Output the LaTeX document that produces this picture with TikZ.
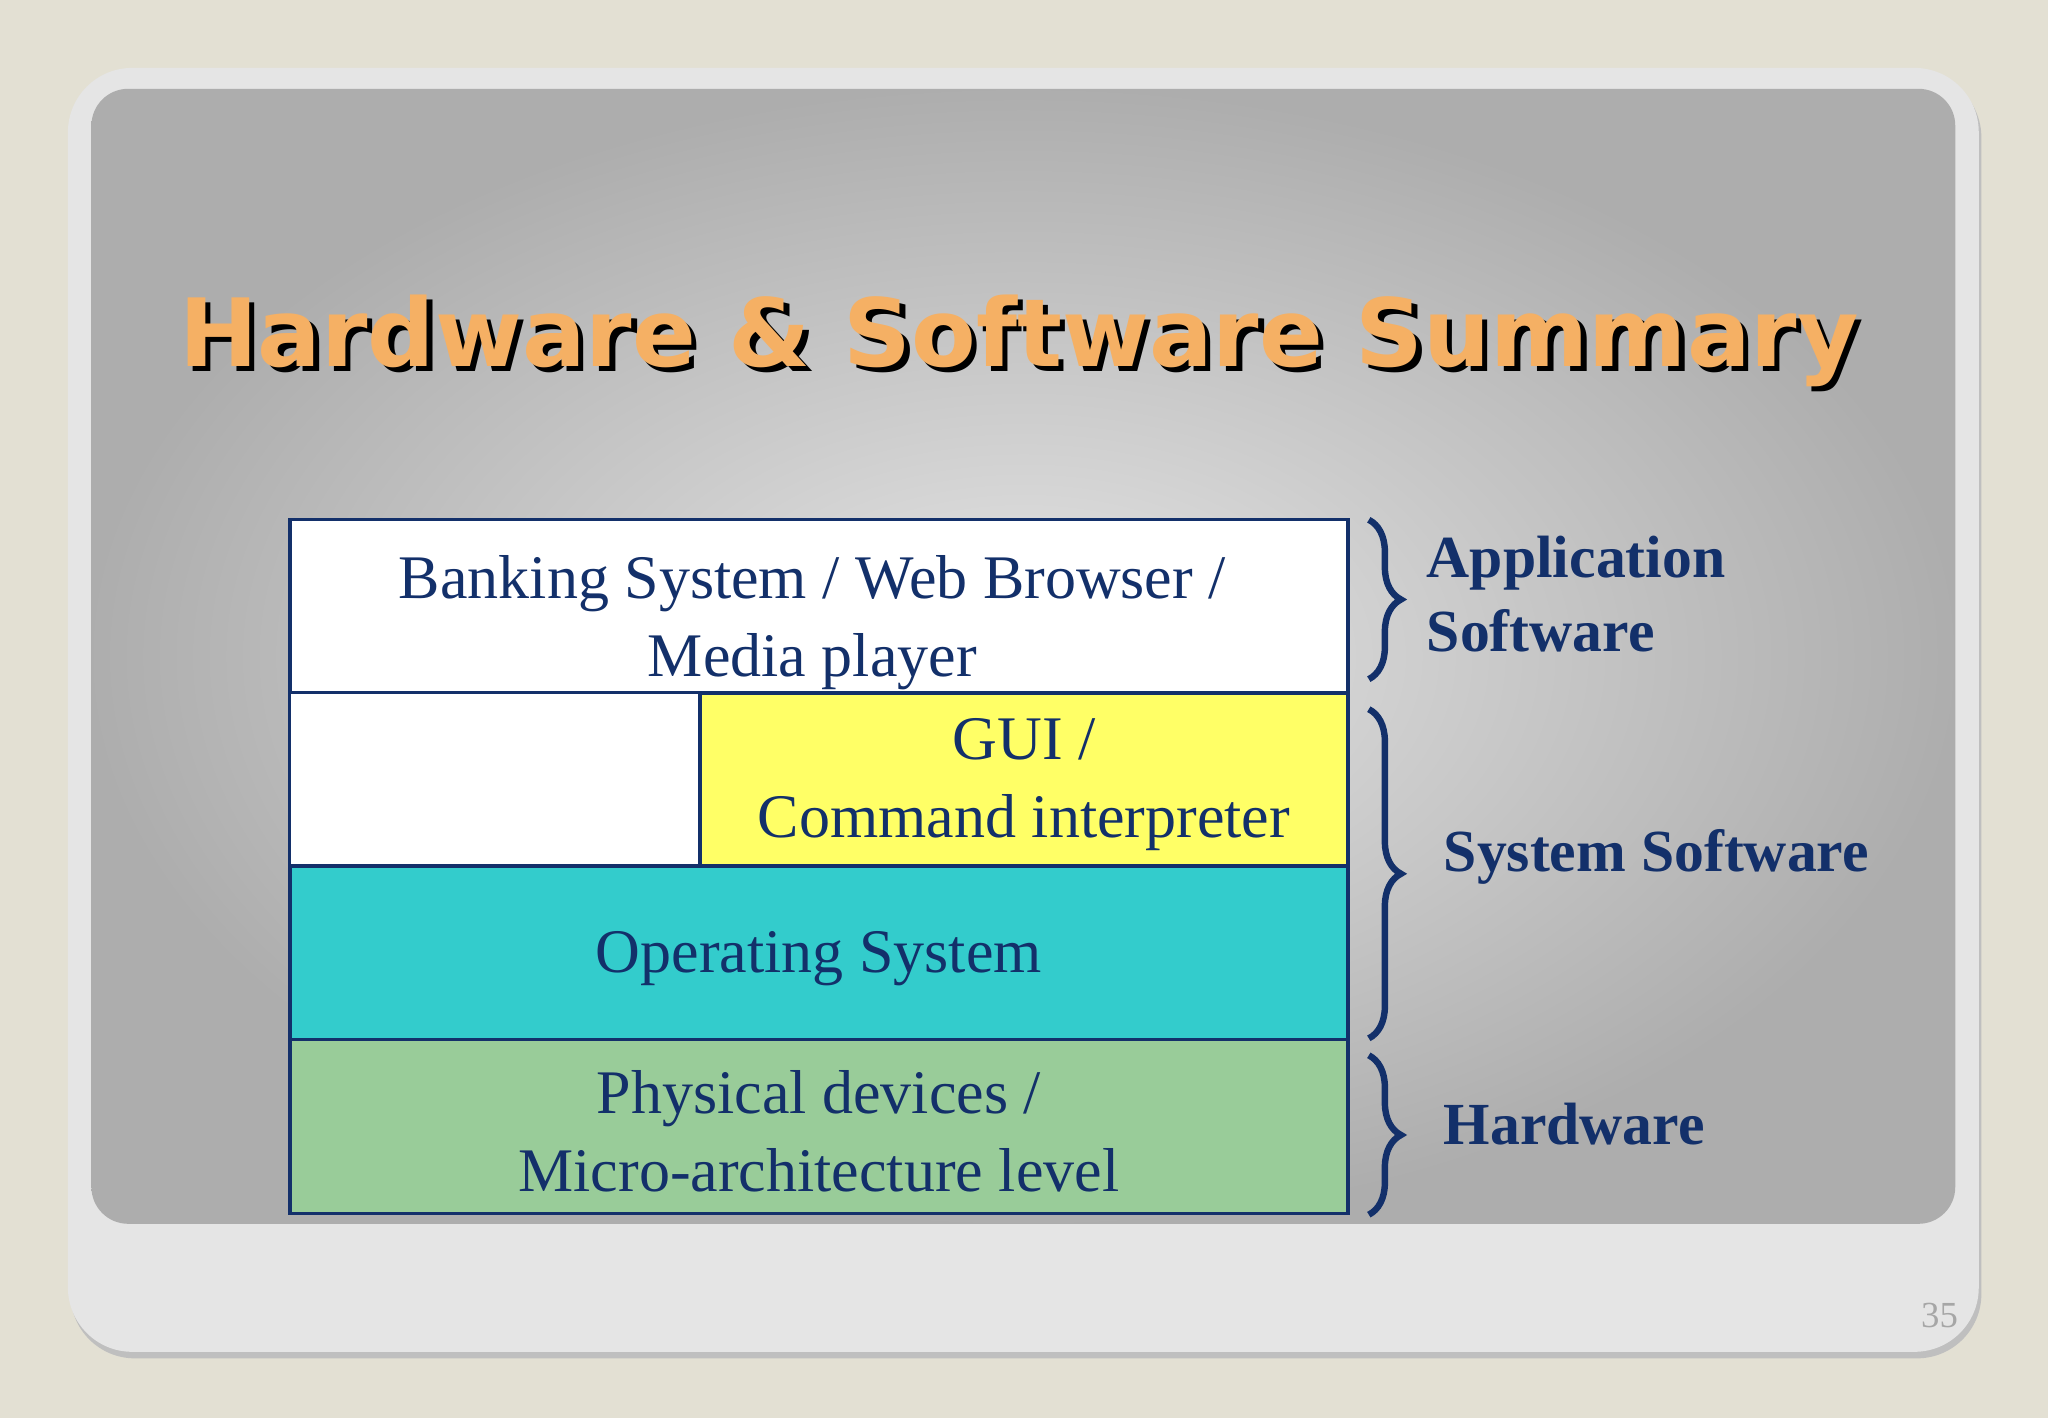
\documentclass[tikz,border=0pt]{standalone}
\usepackage{fontspec}
\setmainfont{Liberation Serif}
\newfontfamily\titlefont{DejaVu Sans}
\usetikzlibrary{decorations.pathreplacing,shadings}
\definecolor{navy}{HTML}{13306A}
\definecolor{bg}{HTML}{E3E0D3}
\definecolor{orng}{HTML}{F5B064}
\definecolor{cyanbox}{HTML}{33CCCC}
\definecolor{greenbox}{HTML}{99CC99}
\definecolor{yellowbox}{HTML}{FFFF66}
\tikzset{
  layer/.style={draw=navy, line width=0.7pt},
  ltext/.style={text=navy, font=\fontsize{13.5}{17}\selectfont, align=center},
  rlabel/.style={text=navy, font=\fontsize{13}{16}\selectfont\bfseries, align=left, anchor=west},
  brc/.style={draw=navy, line width=1.4pt, decorate, decoration={brace, amplitude=7pt}},
  ttl/.style={inner sep=0pt}
}
\begin{document}
\begin{tikzpicture}[x=0.01cm,y=-0.01cm]
\useasboundingbox (0,0) rectangle (1568,1086);
\fill[bg] (0,0) rectangle (1568,1086);
\fill[black!25, rounded corners=14pt] (54,56) rectangle (1517,1040);
\fill[white!90!black, rounded corners=14pt] (52,52) rectangle (1515,1035);
\shade[inner color=white!90!black, outer color=black!32, rounded corners=8pt] (70,68) rectangle (1497,937);
\node[ttl, text=black] (tshadow) at (784,265) {\resizebox{12.85cm}{!}{\titlefont\bfseries Hardware \& Software Summary}};
\node[ttl, text=orng] (title) at (780,261) {\resizebox{12.85cm}{!}{\titlefont\bfseries Hardware \& Software Summary}};
\fill[white, draw=navy, line width=0.7pt] (222,398) rectangle (1032,663);
\draw[layer] (222,398) rectangle (1032,530);
\fill[white] (223,531) rectangle (535,662);
\draw[layer, fill=yellowbox] (536,531) rectangle (1032,663);
\draw[layer, fill=cyanbox] (222,663) rectangle (1032,796);
\draw[layer, fill=greenbox] (222,796) rectangle (1032,929);
\node[ltext] (app) at (622,477) {Banking System / Web Browser /\\Media player};
\node[ltext] (gui) at (784,601) {GUI /\\Command interpreter};
\node[ltext] (os) at (627,734) {Operating System};
\node[ltext] (hw) at (627,866) {Physical devices /\\Micro-architecture level};
\coordinate (a1) at (1048,398); \coordinate (a2) at (1048,520);
\coordinate (s1) at (1048,543); \coordinate (s2) at (1048,795);
\coordinate (h1) at (1048,808); \coordinate (h2) at (1048,930);
\draw[brc] (a1) -- (a2);
\draw[brc] (s1) -- (s2);
\draw[brc] (h1) -- (h2);
\node[rlabel] (la) at (1080,455) {Application\\Software};
\node[rlabel] (ls) at (1093,656) {System Software};
\node[rlabel] (lh) at (1093,861) {Hardware};
\node[text=black!35, font=\fontsize{8}{9}\selectfont] (pg) at (1485,1007) {35};
\end{tikzpicture}
\end{document}
